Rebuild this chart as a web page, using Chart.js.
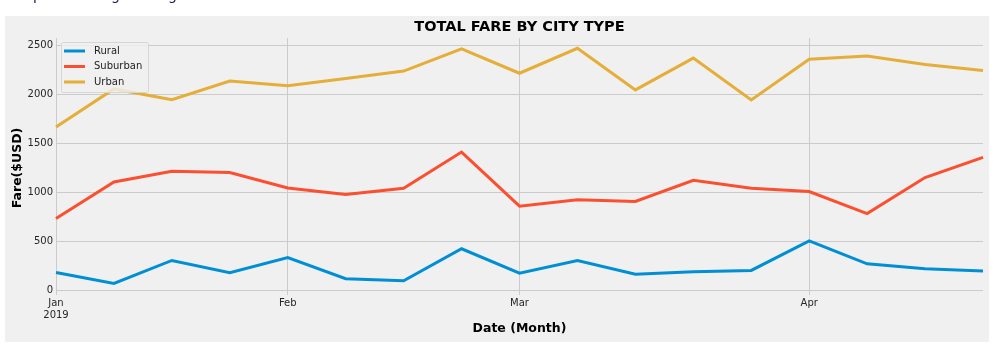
<!DOCTYPE html>
<html>
<head>
<meta charset="utf-8">
<script src="https://cdn.jsdelivr.net/npm/chart.js@4/dist/chart.umd.min.js"></script>
<style>
  html, body { margin: 0; padding: 0; background: #ffffff; }
  #wrap { position: relative; width: 996px; height: 350px; overflow: hidden; }
  canvas { position: absolute; left: 0; top: 0; }
  .frag { position: absolute; top: -13px; font: 14px "DejaVu Sans"; line-height: 16px; color: #1a1a4a; }
</style>
</head>
<body>
<div id="wrap">
  <canvas id="c" width="996" height="350"></canvas>
  <span class="frag" style="left:33px">p</span>
  <span class="frag" style="left:111px">g</span>
  <span class="frag" style="left:168px">g</span>
</div>
<script>
// ---- data (weekly totals, 2019) ----
const weeks = ['2019-01-06','2019-01-13','2019-01-20','2019-01-27','2019-02-03','2019-02-10',
               '2019-02-17','2019-02-24','2019-03-03','2019-03-10','2019-03-17','2019-03-24',
               '2019-03-31','2019-04-07','2019-04-14','2019-04-21','2019-04-28'];
const rural    = [180, 68, 303, 177, 333, 116, 95, 422, 173, 303, 163, 187, 201, 503, 268, 218, 194];
const suburban = [731, 1105, 1214, 1201, 1043, 976, 1041, 1410, 857, 922, 905, 1122, 1040, 1007, 782, 1150, 1356];
const urban    = [1667, 2055, 1945, 2135, 2088, 2162, 2237, 2465, 2215, 2470, 2045, 2370, 1943, 2358, 2392, 2305, 2243];
const seriesNames = ['Rural', 'Suburban', 'Urban'];
const xTickIndex  = [0, 4, 8, 13];
const xTickLabels = [['Jan','2019'], 'Feb', 'Mar', 'Apr'];
const yTicks = [0, 500, 1000, 1500, 2000, 2500];

const colors = ['#008fd5', '#fc4f30', '#e5ae38'];
const GRID = '#cbcbcb';

const decor = {
  id: 'decor',
  beforeDraw(chart) {
    const ctx = chart.ctx;
    ctx.save();
    ctx.fillStyle = '#ffffff';
    ctx.fillRect(0, 0, chart.width, chart.height);
    ctx.fillStyle = '#f0f0f0';
    ctx.fillRect(5, 16, 984, 326);
    ctx.restore();
  },
  afterDatasetsDraw(chart) {
    const ctx = chart.ctx;
    const a = chart.chartArea;
    ctx.save();
    // legend
    const bx = a.left + 5, by = a.top + 4, bw = 87, bh = 50;
    ctx.beginPath();
    ctx.roundRect(bx + 0.5, by + 0.5, bw, bh, 2);
    ctx.fillStyle = 'rgba(240,240,240,0.8)';
    ctx.fill();
    ctx.strokeStyle = '#d6d6d6';
    ctx.lineWidth = 1;
    ctx.stroke();
    ctx.font = '10px "DejaVu Sans"';
    ctx.textBaseline = 'middle';
    ctx.textAlign = 'left';
    chart.data.datasets.forEach((ds, i) => {
      const yy = by + 9 + i * 15.5;
      ctx.beginPath();
      ctx.moveTo(bx + 3, yy);
      ctx.lineTo(bx + 24, yy);
      ctx.strokeStyle = ds.borderColor;
      ctx.lineWidth = 3;
      ctx.stroke();
      ctx.fillStyle = '#222';
      ctx.fillText(ds.label, bx + 33, yy);
    });
    ctx.restore();
  },
  afterDraw(chart) {
    const ctx = chart.ctx;
    const a = chart.chartArea;
    const cx = (a.left + a.right) / 2;
    ctx.save();
    ctx.fillStyle = '#000';
    ctx.textAlign = 'center';
    ctx.textBaseline = 'middle';
    ctx.font = 'bold 14.5px "DejaVu Sans"';
    ctx.fillText('TOTAL FARE BY CITY TYPE', cx, 27);
    ctx.font = 'bold 12.5px "DejaVu Sans"';
    ctx.fillText('Date (Month)', cx, 329);
    ctx.translate(18, 168);
    ctx.rotate(-Math.PI / 2);
    ctx.fillText('Fare($USD)', 0, 0);
    ctx.restore();
  }
};

new Chart(document.getElementById('c'), {
  type: 'line',
  data: {
    labels: weeks,
    datasets: [rural, suburban, urban].map((d, i) => ({
      label: seriesNames[i],
      data: d,
      borderColor: colors[i],
      backgroundColor: colors[i],
      borderWidth: 3,
      pointRadius: 0,
      tension: 0,
      fill: false
    }))
  },
  options: {
    responsive: false,
    animation: false,
    events: [],
    layout: { padding: { left: 0, right: 13, top: 38, bottom: 0 } },
    plugins: { legend: { display: false }, title: { display: false }, tooltip: { enabled: false } },
    scales: {
      x: {
        offset: false,
        border: { display: false },
        grid: {
          drawTicks: false,
          color: (c) => xTickIndex.includes(c.index) ? GRID : 'rgba(0,0,0,0)',
          lineWidth: 1
        },
        ticks: {
          autoSkip: false,
          maxRotation: 0,
          padding: 2,
          color: '#262626',
          font: { family: 'DejaVu Sans', size: 10 },
          callback: (v, i) => {
            const k = xTickIndex.indexOf(i);
            return k >= 0 ? xTickLabels[k] : '';
          }
        },
        afterFit: (s) => { s.height = 55; }
      },
      y: {
        min: -50,
        max: 2575,
        border: { display: false },
        grid: { drawTicks: false, color: GRID, lineWidth: 1 },
        afterBuildTicks: (s) => { s.ticks = yTicks.map(v => ({ value: v })); },
        ticks: {
          padding: 3,
          color: '#262626',
          font: { family: 'DejaVu Sans', size: 10 },
          callback: (v) => String(v)
        },
        afterFit: (s) => { s.width = 56; }
      }
    }
  },
  plugins: [decor]
});
</script>
</body>
</html>
